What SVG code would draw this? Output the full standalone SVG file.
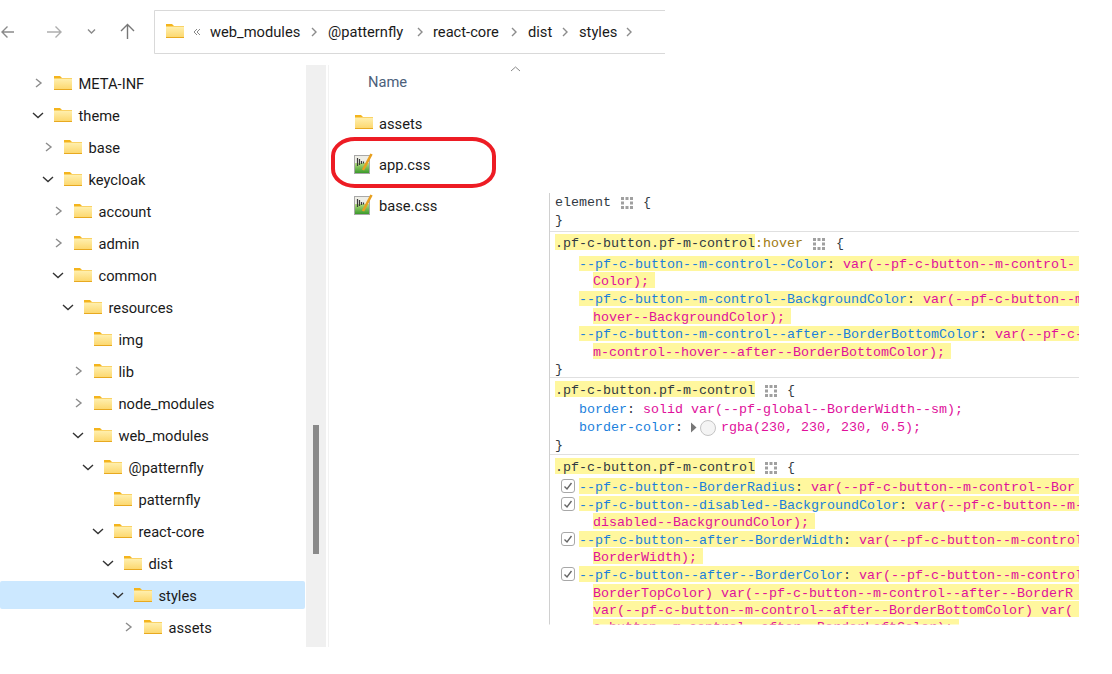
<svg xmlns="http://www.w3.org/2000/svg" width="1112" height="674" viewBox="0 0 1112 674">
<style>
.t{font-family:"Roboto","Open Sans",sans-serif;font-size:14.7px;fill:#1a1a1a}
.m{font-family:"Liberation Mono","DejaVu Sans Mono",monospace;font-size:13.33px;fill:#303942;white-space:pre}
.p{fill:#1a7fdc}.v{fill:#e0109b}.h{fill:#a07a10}
.hl{fill:#fff79e}
.sep{stroke:#e0e0e0;stroke-width:1;fill:none}
.cr{fill:none;stroke:#8c8c8c;stroke-width:1.4}
.cd{fill:none;stroke:#333;stroke-width:1.4}
.nav{fill:none;stroke:#8a8a8a;stroke-width:1.4}
</style>
<defs>
<linearGradient id="fg" x1="0" y1="0" x2="0" y2="1"><stop offset="0" stop-color="#fff0b0"/><stop offset="1" stop-color="#fcd66a"/></linearGradient>
<linearGradient id="gg" x1="0" y1="0" x2="0" y2="1"><stop offset="0" stop-color="#b4dc80"/><stop offset="1" stop-color="#3a9a2a"/></linearGradient>
<symbol id="folder" width="18" height="15" viewBox="0 0 18 15" overflow="visible">
<path d="M0 0h6l2 2h10v3H0z" fill="#f4b41c"/>
<rect x="0" y="2.500" width="18" height="11.500" fill="url(#fg)"/>
<rect x="0" y="13" width="18" height="1" fill="#e8a920"/>
</symbol>
<symbol id="file" width="18" height="21" viewBox="0 0 18 21" overflow="visible">
<rect x="0.500" y="2.500" width="15" height="18" fill="#eeeee6" stroke="#a8a8a8"/>
<rect x="1" y="10" width="14" height="10" fill="url(#gg)"/>
<path d="M3.500 5v8M5.500 6v6M7.500 8v3M9.500 8.500v2" stroke="#3a3a3a" stroke-width="1.2"/>
<path d="M9 17L17.500 1" stroke="#e8a020" stroke-width="2.600"/>
</symbol>
<symbol id="grid" width="12" height="12" viewBox="0 0 12 12" overflow="visible">
<path d="M0 0h3v3H0zM4.500 0h3v3h-3zM9 0h3v3H9zM0 4.500h3v3H0zM9 4.500h3v3H9zM0 9h3v3H0zM4.500 9h3v3h-3zM9 9h3v3H9z" fill="#a0a0a0"/>
</symbol>
<symbol id="cb" width="14" height="14" viewBox="0 0 14 14" overflow="visible">
<rect x="0.500" y="0.500" width="13" height="13" rx="2.500" fill="#fff" stroke="#a8a8a8"/>
<path d="M3.500 7.500l2.500 2.500 4.500-6" fill="none" stroke="#666" stroke-width="1.400"/>
</symbol>
<clipPath id="dev"><rect x="550" y="190" width="529" height="434.500"/></clipPath>
</defs>
<rect width="1112" height="674" fill="#fff"/>

<g id="toolbar">
<path class="nav" d="M14 32H2M7.500 26.500L2 32l5.500 5.500"/>
<path class="nav" d="M47 32h14M55.500 26.500L61 32l-5.500 5.500" stroke-opacity=".7"/>
<path class="nav" d="M88 29.500l3.500 3.500 3.500-3.500"/>
<path class="nav" d="M127.500 39V25M121 31l6.500-6.500L134 31" style="stroke:#777"/>
</g>
<g id="address-bar">
<path d="M665 10.500H154.500v43H665" fill="#fff" stroke="#d9d9d9"/>
<use href="#folder" x="166" y="24"/>
<path d="M197 29l-3 3 3 3M200 29l-3 3 3 3" fill="none" stroke="#888" stroke-width="1"/>
<text class="t" x="210" y="37">web_modules</text>
<path d="M312 28l4 4-4 4" class="cr"/>
<text class="t" x="328" y="37">@patternfly</text>
<path d="M418 28l4 4-4 4" class="cr"/>
<text class="t" x="433" y="37">react-core</text>
<path d="M512 28l4 4-4 4" class="cr"/>
<text class="t" x="528" y="37">dist</text>
<path d="M563 28l4 4-4 4" class="cr"/>
<text class="t" x="579" y="37">styles</text>
<path d="M627 28l4 4-4 4" class="cr"/>
</g>
<g id="tree">
<rect x="0" y="581" width="305" height="28" rx="2" fill="#cce8ff"/>
<g id="n-meta-inf"><path class="cr" d="M36 79l5 4-5 4"/><use href="#folder" x="54" y="76"/><text class="t" x="78.500" y="88.500">META-INF</text></g>
<g id="n-theme"><path class="cd" d="M33 113l5 4.500 5-4.500"/><use href="#folder" x="54" y="108"/><text class="t" x="78.500" y="120.500">theme</text></g>
<g id="n-base"><path class="cr" d="M46 143l5 4-5 4"/><use href="#folder" x="64" y="140"/><text class="t" x="88.500" y="152.500">base</text></g>
<g id="n-keycloak"><path class="cd" d="M43 177l5 4.500 5-4.500"/><use href="#folder" x="64" y="172"/><text class="t" x="88.500" y="184.500">keycloak</text></g>
<g id="n-account"><path class="cr" d="M56 207l5 4-5 4"/><use href="#folder" x="74" y="204"/><text class="t" x="98.500" y="216.500">account</text></g>
<g id="n-admin"><path class="cr" d="M56 239l5 4-5 4"/><use href="#folder" x="74" y="236"/><text class="t" x="98.500" y="248.500">admin</text></g>
<g id="n-common"><path class="cd" d="M53 273l5 4.500 5-4.500"/><use href="#folder" x="74" y="268"/><text class="t" x="98.500" y="280.500">common</text></g>
<g id="n-resources"><path class="cd" d="M63 305l5 4.500 5-4.500"/><use href="#folder" x="84" y="300"/><text class="t" x="108.500" y="312.500">resources</text></g>
<g id="n-img"><use href="#folder" x="94" y="332"/><text class="t" x="118.500" y="344.500">img</text></g>
<g id="n-lib"><path class="cr" d="M76 367l5 4-5 4"/><use href="#folder" x="94" y="364"/><text class="t" x="118.500" y="376.500">lib</text></g>
<g id="n-node-modules"><path class="cr" d="M76 399l5 4-5 4"/><use href="#folder" x="94" y="396"/><text class="t" x="118.500" y="408.500">node_modules</text></g>
<g id="n-web-modules"><path class="cd" d="M73 433l5 4.500 5-4.500"/><use href="#folder" x="94" y="428"/><text class="t" x="118.500" y="440.500">web_modules</text></g>
<g id="n-patternfly-scope"><path class="cd" d="M83 465l5 4.500 5-4.500"/><use href="#folder" x="104" y="460"/><text class="t" x="128.500" y="472.500">@patternfly</text></g>
<g id="n-patternfly"><use href="#folder" x="114" y="492"/><text class="t" x="138.500" y="504.500">patternfly</text></g>
<g id="n-react-core"><path class="cd" d="M93 529l5 4.500 5-4.500"/><use href="#folder" x="114" y="524"/><text class="t" x="138.500" y="536.500">react-core</text></g>
<g id="n-dist"><path class="cd" d="M103 561l5 4.500 5-4.500"/><use href="#folder" x="124" y="556"/><text class="t" x="148.500" y="568.500">dist</text></g>
<g id="n-styles"><path class="cd" d="M113 593l5 4.500 5-4.500"/><use href="#folder" x="134" y="588"/><text class="t" x="158.500" y="600.500">styles</text></g>
<g id="n-assets-tree"><path class="cr" d="M126 623l5 4-5 4"/><use href="#folder" x="144" y="620"/><text class="t" x="168.500" y="632.500">assets</text></g>
</g>
<g id="scrollbar">
<rect x="306" y="65" width="20" height="582" fill="#f0f0f0"/>
<rect x="313" y="425" width="6" height="129" fill="#8a8a8a"/>
<path d="M328.500 65v582" stroke="#f2f2f2"/>
</g>
<g id="file-list">
<text x="368" y="87" class="t" style="fill:#4c607a">Name</text>
<path d="M511 71l4.500-4 4.500 4" fill="none" stroke="#888"/>
<g id="f-assets"><use href="#folder" x="355" y="115"/><text class="t" x="379" y="128.500">assets</text></g>
<g id="f-app"><use href="#file" x="354" y="153"/><text class="t" x="379" y="169.500">app.css</text></g>
<g id="f-base"><use href="#file" x="354" y="194"/><text class="t" x="379" y="210.500">base.css</text></g>
</g>
<g id="connectors"></g>
<rect id="highlight-ring" x="333" y="139" width="161" height="47" rx="22" ry="17" fill="none" stroke="#ed1c24" stroke-width="4"/>
<g id="devtools">
<path d="M549.500 193v431.500" stroke="#d0d0d0"/>
<path class="sep" d="M550 231.500h529M550 377.500h529M550 454.500h529"/>
<g clip-path="url(#dev)">
<rect class="hl" x="555" y="234" width="200" height="16"/>
<rect class="hl" x="579" y="256" width="500" height="15"/>
<rect class="hl" x="593" y="272" width="62" height="16"/>
<rect class="hl" x="579" y="291" width="500" height="15"/>
<rect class="hl" x="593" y="308" width="198" height="16"/>
<rect class="hl" x="579" y="326" width="500" height="15"/>
<rect class="hl" x="593" y="343" width="358" height="16"/>
<rect class="hl" x="555" y="381" width="200" height="16"/>
<rect class="hl" x="555" y="458" width="200" height="16"/>
<rect class="hl" x="579" y="478" width="500" height="16"/>
<rect class="hl" x="579" y="496" width="500" height="15"/>
<rect class="hl" x="593" y="513" width="222" height="16"/>
<rect class="hl" x="579" y="531" width="500" height="16"/>
<rect class="hl" x="593" y="548" width="110" height="16"/>
<rect class="hl" x="579" y="566" width="500" height="16"/>
<rect class="hl" x="593" y="584" width="486" height="16"/>
<rect class="hl" x="593" y="601" width="486" height="16"/>
<rect class="hl" x="593" y="619" width="366" height="16"/>
<text class="m" x="555" y="206">element</text>
<text class="m" x="643" y="206">{</text>
<text class="m" x="555" y="224">}</text>
<text class="m" x="555" y="247">.pf-c-button.pf-m-control<tspan class="h">:hover</tspan></text>
<text class="m" x="836" y="247">{</text>
<text class="m" x="579" y="268"><tspan class="p">--pf-c-button--m-control--Color</tspan>: <tspan class="v">var(--pf-c-button--m-control-</tspan></text>
<text class="m v" x="593" y="285">Color);</text>
<text class="m" x="579" y="303"><tspan class="p">--pf-c-button--m-control--BackgroundColor</tspan>: <tspan class="v">var(--pf-c-button--m</tspan></text>
<text class="m v" x="593" y="321">hover--BackgroundColor);</text>
<text class="m" x="579" y="338"><tspan class="p">--pf-c-button--m-control--after--BorderBottomColor</tspan>: <tspan class="v">var(--pf-c-</tspan></text>
<text class="m v" x="593" y="356">m-control--hover--after--BorderBottomColor);</text>
<text class="m" x="555" y="373">}</text>
<text class="m" x="555" y="394">.pf-c-button.pf-m-control</text>
<text class="m" x="787" y="394">{</text>
<text class="m" x="579" y="413"><tspan class="p">border</tspan>: <tspan class="v">solid var(--pf-global--BorderWidth--sm);</tspan></text>
<text class="m" x="579" y="431"><tspan class="p">border-color</tspan>:</text>
<path d="M691 422.500v10l5.500-5z" fill="#777"/>
<circle cx="708" cy="428" r="7.500" fill="#f4f4f4" stroke="#c4c4c4"/>
<text class="m v" x="721" y="431">rgba(230, 230, 230, 0.5);</text>
<text class="m" x="555" y="449">}</text>
<text class="m" x="555" y="471">.pf-c-button.pf-m-control</text>
<text class="m" x="787" y="471">{</text>
<use href="#cb" x="561" y="479"/>
<text class="m" x="579" y="491"><tspan class="p">--pf-c-button--BorderRadius</tspan>: <tspan class="v">var(--pf-c-button--m-control--Bor</tspan></text>
<use href="#cb" x="561" y="497"/>
<text class="m" x="579" y="509"><tspan class="p">--pf-c-button--disabled--BackgroundColor</tspan>: <tspan class="v">var(--pf-c-button--m-</tspan></text>
<text class="m v" x="593" y="526">disabled--BackgroundColor);</text>
<use href="#cb" x="561" y="532"/>
<text class="m" x="579" y="544"><tspan class="p">--pf-c-button--after--BorderWidth</tspan>: <tspan class="v">var(--pf-c-button--m-control</tspan></text>
<text class="m v" x="593" y="561">BorderWidth);</text>
<use href="#cb" x="561" y="567"/>
<text class="m" x="579" y="579"><tspan class="p">--pf-c-button--after--BorderColor</tspan>: <tspan class="v">var(--pf-c-button--m-control</tspan></text>
<text class="m v" x="593" y="597">BorderTopColor) var(--pf-c-button--m-control--after--BorderR</text>
<text class="m v" x="593" y="614">var(--pf-c-button--m-control--after--BorderBottomColor) var(</text>
<text class="m v" x="593" y="631">c-button--m-control--after--BorderLeftColor);</text>
</g>
<use href="#grid" x="621" y="197"/>
<use href="#grid" x="813" y="238"/>
<use href="#grid" x="765" y="385"/>
<use href="#grid" x="765" y="462"/>
</g>
</svg>
